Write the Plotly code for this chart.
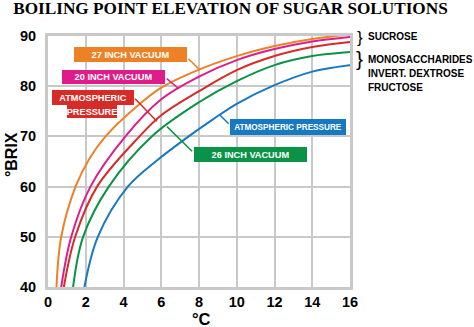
import plotly.graph_objects as go

# ---------------- data ----------------
X_TICKS = [0, 2, 4, 6, 8, 10, 12, 14, 16]
Y_TICKS = [40, 50, 60, 70, 80, 90]

# Sucrose, 27 inch vacuum
vac27_x = [0.45, 0.70, 1.46, 2.20, 3.05, 4.50, 6.00, 8.00, 10.0, 12.0, 14.0, 16.0, 16.3]
vac27_y = [40.0, 50.0, 60.0, 65.6, 70.0, 75.3, 79.7, 83.3, 86.0, 88.0, 89.4, 90.3, 90.4]
# Sucrose, 20 inch vacuum
vac20_x = [0.70, 1.23, 2.25, 4.10, 6.00, 8.00, 10.0, 12.0, 14.0, 16.0, 16.3]
vac20_y = [40.0, 50.0, 60.0, 70.0, 77.4, 81.9, 85.2, 87.4, 88.9, 89.8, 89.9]
# Sucrose, atmospheric pressure
atm_suc_x = [0.84, 1.44, 2.60, 4.85, 6.00, 8.00, 10.0, 12.0, 14.0, 16.0, 16.3]
atm_suc_y = [40.0, 50.0, 60.0, 70.0, 74.2, 79.0, 83.2, 86.0, 87.8, 88.8, 88.9]
# Monosaccharides, 26 inch vacuum
vac26_x = [1.33, 1.86, 3.22, 5.50, 8.00, 10.0, 12.0, 14.0, 16.0, 16.3]
vac26_y = [40.0, 50.0, 60.0, 70.0, 76.8, 81.0, 84.2, 86.0, 86.8, 86.9]
# Monosaccharides, atmospheric pressure
atm_mono_x = [1.93, 2.64, 4.23, 5.80, 7.45, 8.70, 10.0, 12.0, 14.0, 16.0, 16.3]
atm_mono_y = [40.0, 50.0, 60.0, 65.3, 70.0, 73.3, 76.5, 80.2, 82.9, 84.2, 84.3]

ORANGE = "#EC8125"
MAGENTA = "#DE1D8A"
RED = "#D62B27"
GREEN = "#0A9347"
BLUE = "#1779C2"
GRID = "#c9c9c9"

# ---------------- layout geometry (pixels of the 474x327 page) ----------------
W, H = 474, 327
L, R, T, B = 47.5, 350.0, 35.5, 287.5
XMIN, XMAX, YMIN, YMAX = 0, 16, 40, 90


def px_x(px):
    return (px - L) / (R - L)


def px_y(py):
    return (B - py) / (B - T)


SANS = "Liberation Sans, Arial, sans-serif"

fig = go.Figure()
series = [
    (vac27_x, vac27_y, ORANGE),
    (vac20_x, vac20_y, MAGENTA),
    (atm_suc_x, atm_suc_y, RED),
    (vac26_x, vac26_y, GREEN),
    (atm_mono_x, atm_mono_y, BLUE),
]
for xs, ys, col in series:
    fig.add_trace(go.Scatter(
        x=xs, y=ys, mode="lines",
        line=dict(color=col, width=2, shape="spline", smoothing=1.0),
        cliponaxis=False, hoverinfo="skip", showlegend=False,
    ))

ann = []


def box(text, cx, cy, w, h, col, size=9.2):
    ann.append(dict(
        text=text, x=px_x(cx), y=px_y(cy), xref="paper", yref="paper",
        xanchor="center", yanchor="middle", showarrow=False,
        width=w, height=h, bgcolor=col, borderpad=0, borderwidth=0,
        font=dict(family=SANS, size=size, color="white", weight="bold"),
        align="center", valign="middle",
    ))


def connector(head_px, tail_px, col):
    ann.append(dict(
        text="", x=px_x(head_px[0]), y=px_y(head_px[1]),
        xref="paper", yref="paper",
        ax=tail_px[0] - head_px[0], ay=tail_px[1] - head_px[1],
        showarrow=True, arrowhead=0, arrowwidth=1.5, arrowcolor=col,
        standoff=0, startstandoff=0, font=dict(size=1),
    ))


box("27 INCH VACUUM", 130.0, 54.2, 113, 15, ORANGE)
box("20 INCH VACUUM", 113.3, 76.3, 103, 14, MAGENTA)
box("ATMOSPHERIC", 92.5, 97.5, 82, 15, RED)
box("PRESSURE", 91.7, 111.0, 50, 13, RED)
box("26 INCH VACUUM", 250.0, 154.2, 113, 15, GREEN)
box("ATMOSPHERIC PRESSURE", 287.5, 127.0, 116, 16, BLUE, size=8.2)

connector((199.0, 69.0), (186.7, 57.0), ORANGE)
connector((178.5, 88.5), (165.0, 77.0), MAGENTA)
connector((156.5, 121.0), (133.3, 97.0), RED)
connector((166.7, 126.5), (193.3, 152.5), GREEN)
connector((219.5, 114.5), (230.0, 125.0), BLUE)

# right-side group labels
for ch, py, size in [("}", 37.5, 17), ("}", 58.5, 21)]:
    ann.append(dict(text=ch, x=px_x(360), y=px_y(py), xref="paper", yref="paper",
                    xanchor="center", yanchor="middle", showarrow=False,
                    font=dict(family=SANS, size=size, color="black")))
for txt, py in [("SUCROSE", 36.5), ("MONOSACCHARIDES", 59.0),
                ("INVERT. DEXTROSE", 73.0), ("FRUCTOSE", 87.0)]:
    ann.append(dict(text=txt, x=px_x(366.5), y=px_y(py), xref="paper", yref="paper",
                    xanchor="left", yanchor="middle", showarrow=False,
                    font=dict(family=SANS, size=10, color="black", weight="bold")))

# axis titles
ann.append(dict(text="°C", x=px_x(201), y=px_y(319.5), xref="paper", yref="paper",
                xanchor="center", yanchor="middle", showarrow=False,
                height=14, valign="middle",
                font=dict(family=SANS, size=16.5, color="black", weight="bold")))
ann.append(dict(text="°BRIX", x=px_x(10.5), y=px_y(155), xref="paper", yref="paper",
                xanchor="center", yanchor="middle", showarrow=False, textangle=-90,
                font=dict(family=SANS, size=16, color="black", weight="bold")))

tickfont = dict(family=SANS, size=14.5, color="black", weight="bold")
fig.update_layout(
    width=W, height=H,
    margin=dict(l=L, r=W - R, t=T, b=H - B, pad=0),
    paper_bgcolor="white", plot_bgcolor="white",
    title=dict(text="BOILING POINT ELEVATION OF SUGAR SOLUTIONS",
               x=230.5 / W, xref="container", xanchor="center",
               y=0.993, yref="container", yanchor="top",
               font=dict(family="Liberation Serif, Times New Roman, serif",
                         size=17.2, color="black", weight="bold")),
    xaxis=dict(range=[XMIN, XMAX], tickvals=X_TICKS, showgrid=True,
               gridcolor=GRID, gridwidth=2, showline=True, linecolor=GRID,
               linewidth=3, mirror=True, zeroline=False, ticks="",
               ticklabelstandoff=0, tickfont=tickfont, fixedrange=True),
    yaxis=dict(range=[YMIN, YMAX], tickvals=Y_TICKS, showgrid=True,
               gridcolor=GRID, gridwidth=2, showline=True, linecolor=GRID,
               linewidth=3, mirror=True, zeroline=False, ticks="",
               ticklabelstandoff=6, tickfont=tickfont, fixedrange=True),
    annotations=ann,
    showlegend=False,
)

fig.write_html("out.html", config={"displayModeBar": False})
